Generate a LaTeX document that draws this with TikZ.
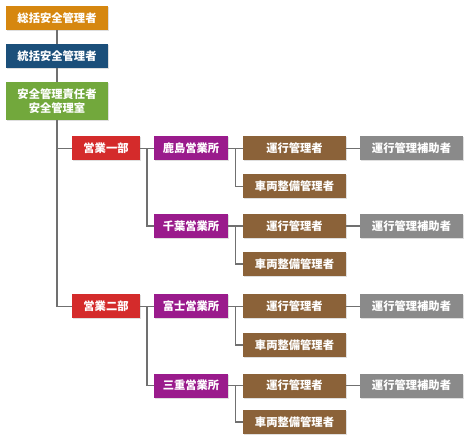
\documentclass[tikz,border=0pt]{standalone}
\usepackage{fontspec}
\newfontfamily\jp{Noto Sans CJK JP}
\usetikzlibrary{shadows,calc}
\definecolor{cOrange}{RGB}{214,135,15}
\definecolor{cNavy}{RGB}{27,79,122}
\definecolor{cGreen}{RGB}{114,168,60}
\definecolor{cRed}{RGB}{212,43,43}
\definecolor{cPurple}{RGB}{154,27,140}
\definecolor{cBrown}{RGB}{139,98,57}
\definecolor{cGray}{RGB}{138,138,138}
\definecolor{cLine}{RGB}{112,112,112}
\tikzset{
  box/.style={draw=none, text=white, inner sep=0pt, minimum height=24pt,
    font=\jp\bfseries\fontsize{11.3}{14}\selectfont, align=center,
    drop shadow={opacity=0.25, shadow xshift=1pt, shadow yshift=-1pt}},
  topbox/.style={box, minimum width=102pt},
  bubox/.style={box, fill=cRed, minimum width=68pt},
  eibox/.style={box, fill=cPurple, minimum width=74pt},
  brbox/.style={box, fill=cBrown, minimum width=103pt},
  grbox/.style={box, fill=cGray, minimum width=103pt},
  conn/.style={draw=cLine, line width=1.3pt}
}
\begin{document}
\begin{tikzpicture}[x=1pt,y=-1pt]
\useasboundingbox (0,0) rectangle (474,446);
\node[topbox, fill=cOrange] (t1) at (57,18) {総括安全管理者};
\node[topbox, fill=cNavy] (t2) at (57,56) {統括安全管理者};
\node[topbox, fill=cGreen, minimum height=38pt] (t3) at (57,101) {安全管理責任者\\安全管理室};
% 営業部
\node[bubox] (b1) at (106,148.5) {営業一部};
\node[bubox] (b2) at (106,306.5) {営業二部};
% 営業所
\node[eibox] (e1) at (191,148.5) {鹿島営業所};
\node[eibox] (e2) at (191,226) {千葉営業所};
\node[eibox] (e3) at (191,306.5) {富士営業所};
\node[eibox] (e4) at (191,385.5) {三重営業所};
% brown
\node[brbox] (u1) at (294.5,148.5) {運行管理者};
\node[brbox] (s1) at (294.5,186.5) {車両整備管理者};
\node[brbox] (u2) at (294.5,226) {運行管理者};
\node[brbox] (s2) at (294.5,264) {車両整備管理者};
\node[brbox] (u3) at (294.5,306.5) {運行管理者};
\node[brbox] (s3) at (294.5,345) {車両整備管理者};
\node[brbox] (u4) at (294.5,385.5) {運行管理者};
\node[brbox] (s4) at (294.5,422) {車両整備管理者};
% gray
\node[grbox] (h1) at (411.5,148.5) {運行管理補助者};
\node[grbox] (h2) at (411.5,226) {運行管理補助者};
\node[grbox] (h3) at (411.5,306.5) {運行管理補助者};
\node[grbox] (h4) at (411.5,385.5) {運行管理補助者};
% connectors
\begin{scope}[on background layer/.style={}]
\path[conn] (t1.south) -- (t2.north);
\path[conn] (t2.south) -- (t3.north);
\path[conn] (t3.south) |- (b1.west);
\path[conn] (t3.south) |- (b2.west);
\foreach \b/\x/\y in {b1/e1/e2, b2/e3/e4}{
  \coordinate (m) at ($(\b.east)!0.5!(\x.west)$);
  \path[conn] (\b.east) -- (\x.west);
  \path[conn] (m) |- (\y.west);
}
\foreach \e/\u/\s/\h in {e1/u1/s1/h1, e2/u2/s2/h2, e3/u3/s3/h3, e4/u4/s4/h4}{
  \coordinate (m) at ($(\e.east)!0.5!(\u.west)$);
  \path[conn] (\e.east) -- (\u.west);
  \path[conn] (m) |- (\s.west);
  \path[conn] (\u.east) -- (\h.west);
}
\end{scope}
\end{tikzpicture}
\end{document}
